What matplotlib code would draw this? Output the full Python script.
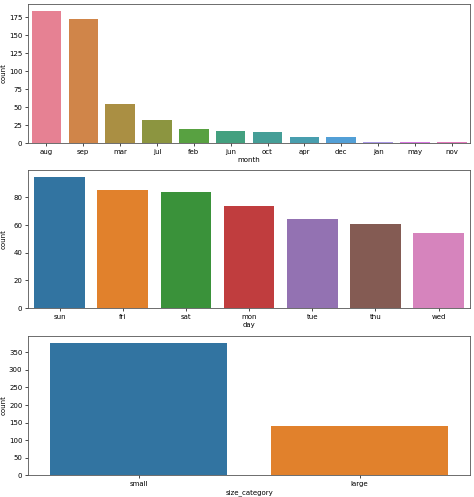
import matplotlib
matplotlib.use("Agg")
import matplotlib.pyplot as plt
import seaborn as sns

months = ["aug", "sep", "mar", "jul", "feb", "jun", "oct", "apr", "dec", "jan", "may", "nov"]
month_counts = [184, 172, 54, 32, 20, 17, 15, 9, 9, 2, 2, 1]
days = ["sun", "fri", "sat", "mon", "tue", "thu", "wed"]
day_counts = [95, 85, 84, 74, 64, 61, 54]
sizes = ["small", "large"]
size_counts = [378, 139]

fs = 5
W, H = 474, 497
fig = plt.figure(figsize=(W / 100, H / 100), dpi=100)
left, width = 0.059, 0.933

def draw(rect, cats, vals, colors, xlabel, yticks):
    ax = fig.add_axes(rect)
    x = range(len(cats))
    ax.bar(x, vals, width=0.8, color=colors, linewidth=0)
    ax.set_xticks(list(x))
    ax.set_xticklabels(cats, fontsize=fs)
    ax.set_xlim(-0.5, len(cats) - 0.5)
    ax.set_yticks(yticks)
    ax.tick_params(axis="both", labelsize=fs, length=2.5, width=0.5, pad=1.5)
    ax.set_xlabel(xlabel, fontsize=fs, labelpad=1.5)
    ax.set_ylabel("count", fontsize=fs)
    # place ylabel center ~7px from figure left edge
    ax.yaxis.set_label_coords((7 / W - left) / width, 0.5)
    for s in ax.spines.values():
        s.set_linewidth(0.6)
        s.set_color("#555555")
    return ax

husl = [sns.desaturate(c, 0.75) for c in sns.color_palette("husl", 12)]
tab = [sns.desaturate(c, 0.75) for c in sns.color_palette("tab10", 10)]

draw([left, 0.712, width, 0.280], months, month_counts, husl, "month",
     [0, 25, 50, 75, 100, 125, 150, 175])
draw([left, 0.380, width, 0.278], days, day_counts, tab[:7], "day",
     [0, 20, 40, 60, 80])
draw([left, 0.044, width, 0.280], sizes, size_counts, tab[:2], "size_category",
     [0, 50, 100, 150, 200, 250, 300, 350])

fig.savefig("out.png", dpi=100)
